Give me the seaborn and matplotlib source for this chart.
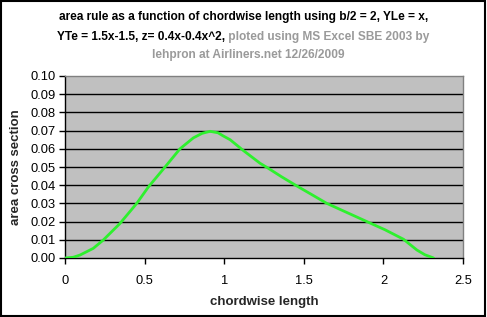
import matplotlib
matplotlib.use("Agg")
import matplotlib.pyplot as plt
import seaborn as sns
import pandas as pd
from matplotlib.patches import Rectangle

chord_x = [0.0, 0.05, 0.092, 0.176, 0.239, 0.344, 0.449, 0.522, 0.627, 0.721, 0.77, 0.805, 0.86,
           0.91, 0.96, 0.994, 1.036, 1.12, 1.225, 1.267, 1.36, 1.455, 1.55, 1.644,
           1.77, 1.896, 2.01, 2.126, 2.17, 2.21, 2.26, 2.315]
area_y = [0.0, 0.0004, 0.0016, 0.0053, 0.0099, 0.019, 0.030, 0.039, 0.050, 0.060, 0.0635, 0.066, 0.0685,
          0.0696, 0.0688, 0.067, 0.065, 0.059, 0.052, 0.0498, 0.0446, 0.0396, 0.0348, 0.030,
          0.025, 0.020, 0.0155, 0.0103, 0.0072, 0.0044, 0.0018, 0.0]

y_ticks = [0.00, 0.01, 0.02, 0.03, 0.04, 0.05, 0.06, 0.07, 0.08, 0.09, 0.10]
x_ticks = [0, 0.5, 1, 1.5, 2, 2.5]
x_tick_labels = ["0", "0.5", "1", "1.5", "2", "2.5"]

title_line1 = "area rule as a function of chordwise length using b/2 = 2, YLe = x,"
title_line2a = "YTe = 1.5x-1.5, z= 0.4x-0.4x^2,"
title_line2b = " ploted using MS Excel SBE 2003 by"
title_line3 = "lehpron at Airliners.net 12/26/2009"

sns.set_style("white")
plt.rcParams['font.family'] = ['Liberation Sans', 'DejaVu Sans']

df = pd.DataFrame({"x": chord_x, "y": area_y})

fig = plt.figure(figsize=(4.87, 3.17), dpi=100)
ax = fig.add_axes([65.3/487, 1-258/317, (463-65.3)/487, (258-76)/317])
ax.set_facecolor("#C0C0C0")
for yv in y_ticks[1:-1]:
    ax.axhline(yv, color="black", lw=1.0, zorder=1)

sns.lineplot(data=df, x="x", y="y", ax=ax, color="#2EF02E", lw=2.0, zorder=3)

ax.set_xlim(0, 2.5)
ax.set_ylim(0, 0.10)
ax.set_xticks(x_ticks)
ax.set_xticklabels(x_tick_labels)
ax.set_yticks(y_ticks)
ax.set_yticklabels([f"{v:.2f}" for v in y_ticks])
ax.tick_params(axis="both", direction="out", length=4, width=1, color="black",
               labelsize=9.3, labelcolor="black", pad=3)
ax.tick_params(axis="x", pad=8)
ax.tick_params(bottom=True, left=True)
for side in ["top", "right"]:
    ax.spines[side].set_color("#808080")
    ax.spines[side].set_linewidth(1)
for side in ["left", "bottom"]:
    ax.spines[side].set_color("black")
    ax.spines[side].set_linewidth(1)

ax.set_xlabel("chordwise length", fontsize=9.5, fontweight="bold", labelpad=7)
ax.set_ylabel("area cross section", fontsize=9.5, fontweight="bold", labelpad=6)

fs = 8.6
gray = "#9A9A9A"
fig.text(244/487, 1-17/317, title_line1, ha="center", va="center",
         fontsize=fs, fontweight="bold", color="black")
fig.text(248/487, 1-55/317, title_line3, ha="center", va="center",
         fontsize=fs, fontweight="bold", color=gray)

renderer = fig.canvas.get_renderer()
t2a = fig.text(0, 1-37/317, title_line2a, ha="left", va="center",
               fontsize=fs, fontweight="bold", color="black")
t2b = fig.text(0, 1-37/317, title_line2b, ha="left", va="center",
               fontsize=fs, fontweight="bold", color=gray)
wa = t2a.get_window_extent(renderer).width
wb = t2b.get_window_extent(renderer).width
W = fig.bbox.width
start = (243 * W / 487) - (wa + wb) / 2
t2a.set_x(start / W)
t2b.set_x((start + wa) / W)

fig.patches.append(Rectangle((0.002, 0.003), 0.994, 0.994, transform=fig.transFigure,
                             fill=False, edgecolor="black", lw=1.5))

fig.savefig("out.png", dpi=100, facecolor="white")
